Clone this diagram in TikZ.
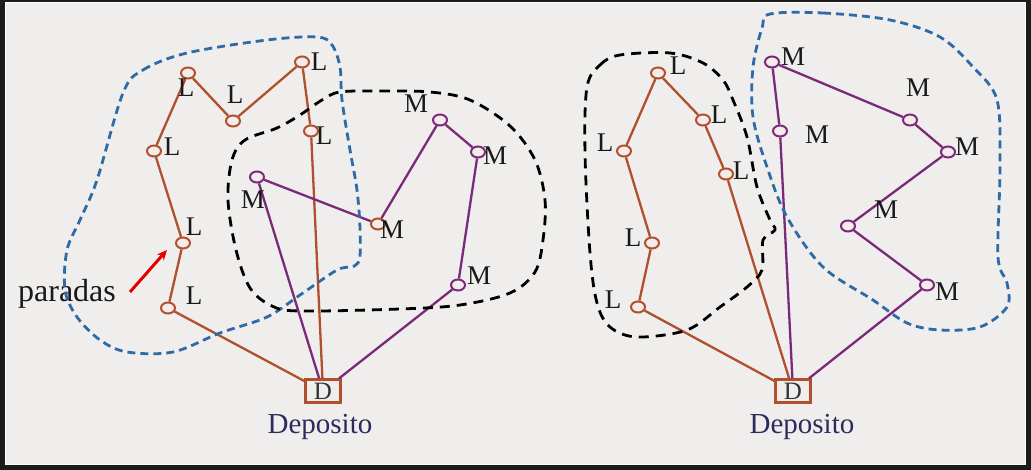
\documentclass[tikz,border=0pt]{standalone}
\usepackage{fontspec}
\setmainfont{Liberation Serif}
\usetikzlibrary{shapes.geometric,arrows.meta}
\definecolor{route}{HTML}{B0502C}
\definecolor{mroute}{HTML}{7A2A78}
\definecolor{bluedash}{HTML}{2E6BA6}
\definecolor{bg}{HTML}{EFEEEC}
\definecolor{frame}{HTML}{1C1C1C}
\definecolor{depo}{HTML}{2B2B5E}
\definecolor{stopfill}{HTML}{F4ECEA}
\tikzset{
  lstop/.style={ellipse, draw=route, line width=2pt, fill=stopfill, minimum width=14pt, minimum height=11pt, inner sep=0pt},
  mstop/.style={ellipse, draw=mroute, line width=2pt, fill=stopfill, minimum width=14pt, minimum height=11pt, inner sep=0pt},
  lbl/.style={text=black!90, font=\fontsize{27}{30}\selectfont, inner sep=0pt},
  lline/.style={draw=route, line width=2.3pt},
  mline/.style={draw=mroute, line width=2.3pt},
  depot/.style={draw=route, line width=2.3pt, fill=bg, minimum width=35pt, minimum height=23pt, inner sep=0pt, font=\fontsize{25}{26}\selectfont, text=black!80},
  depolbl/.style={text=depo, font=\fontsize{29}{32}\selectfont, inner sep=0pt},
  bluezone/.style={draw=bluedash, line width=2.8pt, dash pattern=on 8pt off 5pt},
  blackzone/.style={draw=black, line width=2.8pt, dash pattern=on 10pt off 7pt},
}
\begin{document}
\begin{tikzpicture}[x=1pt, y=-1pt]
\useasboundingbox (0,0) rectangle (1031,470);
\fill[frame] (0,0) rectangle (1031,470);
\fill[white] (5,2) rectangle (1026,465);
\fill[bg] (6,3) rectangle (1025,464);

% ---------------- left diagram ----------------
\node[depot] (D1) at (323,391) {D};
\node[depolbl] (dep1) at (320,427) {Deposito};

\node[lstop] (L1) at (188,73) {};
\node[lstop] (L2) at (233,121) {};
\node[lstop] (L3) at (302,62) {};
\node[lstop] (L4) at (311,131) {};
\node[lstop] (L5) at (154,151) {};
\node[lstop] (L6) at (183,243) {};
\node[lstop] (L7) at (168,308) {};

\node[mstop] (M1) at (257,177) {};
\node[lstop] (M2) at (378,224) {};
\node[mstop] (M3) at (440,120) {};
\node[mstop] (M4) at (478,152) {};
\node[mstop] (M5) at (458,285) {};

\draw[lline] (D1) -- (L7) -- (L6) -- (L5) -- (L1) -- (L2) -- (L3) -- (L4) -- (D1);
\draw[mline] (D1) -- (M1) -- (M2) -- (M3) -- (M4) -- (M5) -- (D1);

\node[lbl] (tL1) at (186,88) {L};
\node[lbl] (tL2) at (235,95) {L};
\node[lbl] (tL3) at (319,62) {L};
\node[lbl] (tL4) at (324,136) {L};
\node[lbl] (tL5) at (172,147) {L};
\node[lbl] (tL6) at (194,227) {L};
\node[lbl] (tL7) at (194,296) {L};
\node[lbl] (tM1) at (253,200) {M};
\node[lbl] (tM2) at (392,230) {M};
\node[lbl] (tM3) at (416,104) {M};
\node[lbl] (tM4) at (495,156) {M};
\node[lbl] (tM5) at (479,276) {M};

\node[text=black!90, font=\fontsize{32}{34}\selectfont, inner sep=0pt] (par) at (67,294) {paradas};
\coordinate (arrS) at (130,292);
\coordinate (arrE) at (167,250);
\draw[red!90!black, line width=3pt, -{Stealth[length=10pt,width=9pt]}] (arrS) -- (arrE);

\draw[bluezone] plot[smooth cycle, tension=0.55] coordinates {
 (123,93) (143,70) (187,53) (267,40) (317,37) (332,45) (340,67) (342,100)
 (350,150) (357,190) (360,230) (358,263) (337,270) (300,295) (267,317)
 (220,333) (173,352) (127,352) (100,340) (77,317) (65,290) (67,250) (80,220) (97,180)};

\draw[blackzone] plot[smooth cycle, tension=0.55] coordinates {
 (340,92) (380,91) (430,92) (470,100) (510,126) (535,160) (545,200) (543,240)
 (535,272) (510,293) (460,305) (400,309) (300,311) (272,306) (250,288) (236,250)
 (228,200) (232,160) (245,140) (277,128) (300,115) (322,100)};

% ---------------- right diagram ----------------
\node[depot] (D2) at (793,391) {D};
\node[depolbl] (dep2) at (802,427) {Deposito};

\node[lstop] (R1) at (658,73) {};
\node[lstop] (R2) at (703,120) {};
\node[lstop] (R3) at (726,174) {};
\node[lstop] (R4) at (624,151) {};
\node[lstop] (R5) at (652,243) {};
\node[lstop] (R6) at (638,307) {};

\node[mstop] (S1) at (772,62) {};
\node[mstop] (S2) at (780,131) {};
\node[mstop] (S3) at (910,120) {};
\node[mstop] (S4) at (948,152) {};
\node[mstop] (S5) at (848,226) {};
\node[mstop] (S6) at (927,285) {};

\draw[lline] (D2) -- (R6) -- (R5) -- (R4) -- (R1) -- (R2) -- (R3) -- (D2);
\draw[mline] (D2) -- (S2) -- (S1) -- (S3) -- (S4) -- (S5) -- (S6) -- (D2);

\node[lbl] (tR1) at (678,66) {L};
\node[lbl] (tR2) at (719,115) {L};
\node[lbl] (tR3) at (741,171) {L};
\node[lbl] (tR4) at (605,143) {L};
\node[lbl] (tR5) at (633,238) {L};
\node[lbl] (tR6) at (613,300) {L};
\node[lbl] (tS1) at (793,57) {M};
\node[lbl] (tS2) at (817,135) {M};
\node[lbl] (tS3) at (918,88) {M};
\node[lbl] (tS4) at (967,147) {M};
\node[lbl] (tS5) at (886,210) {M};
\node[lbl] (tS6) at (947,292) {M};

\draw[blackzone] plot[smooth cycle, tension=0.55] coordinates {
 (587,87) (600,65) (620,55) (670,53) (703,63) (723,80) (733,100) (747,137)
 (757,187) (770,220) (775,230) (763,240) (762,270) (747,287) (720,307)
 (687,330) (637,337) (610,327) (597,303) (590,253) (585,153)};

\draw[bluezone] plot[smooth cycle, tension=0.55] coordinates {
 (770,14) (823,13) (890,20) (940,37) (973,67) (997,100) (1000,167) (998,257)
 (1007,283) (1007,307) (980,327) (940,330) (907,323) (873,300) (823,267)
 (787,217) (767,167) (753,117) (753,67) (762,28)};
\end{tikzpicture}
\end{document}
